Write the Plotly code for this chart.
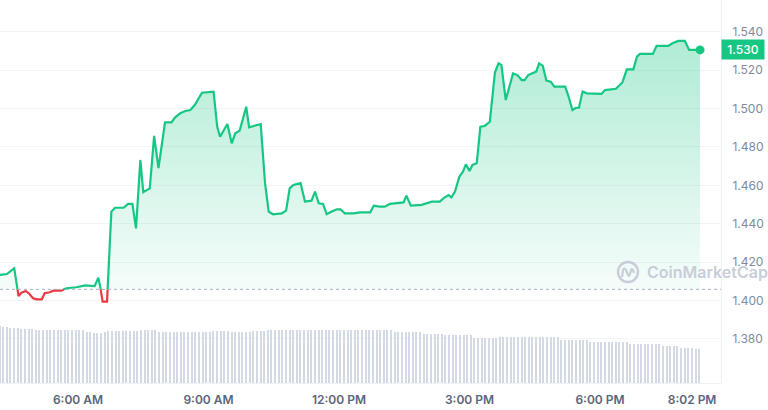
import pandas as pd
import plotly.graph_objects as go

DAY = "2024-05-01"
OPEN_PRICE = 1.4058

price_times = ["04:12","04:22","04:32","04:38","04:42","04:48","04:53","04:58","05:03","05:10",
    "05:14","05:21","05:26","05:37","05:44","05:58","06:10","06:23","06:28","06:31",
    "06:34","06:40","06:46","06:51","07:03","07:09","07:15","07:20","07:26","07:30",
    "07:39","07:45","07:51","08:00","08:09","08:14","08:21","08:28","08:35","08:41",
    "08:51","09:07","09:12","09:16","09:26","09:32","09:37","09:43","09:52","09:56",
    "10:12","10:18","10:23","10:29","10:41","10:47","10:52","10:57","11:07","11:13",
    "11:22","11:27","11:32","11:38","11:43","11:50","11:57","12:02","12:08","12:20",
    "12:29","12:43","12:48","12:56","13:03","13:10","13:20","13:29","13:33","13:39",
    "13:54","14:01","14:08","14:19","14:25","14:31","14:35","14:40","14:46","14:51",
    "14:55","15:00","15:04","15:10","15:15","15:21","15:28","15:35","15:40","15:44",
    "15:50","16:00","16:06","16:12","16:16","16:21","16:28","16:32","16:36","16:41",
    "16:46","16:52","16:57","17:12","17:16","17:22","17:27","17:31","17:36","17:42",
    "18:02","18:07","18:22","18:27","18:31","18:37","18:46","18:51","18:55","19:13",
    "19:18","19:34","19:40","19:48","19:57","20:03","20:18"]

prices = [1.4133,1.4138,1.4168,1.4023,1.4041,1.4050,1.4034,1.4012,1.4006,1.4006,
    1.4038,1.4043,1.4051,1.4051,1.4064,1.4069,1.4079,1.4075,1.4119,1.4064,
    1.3994,1.3994,1.4463,1.4483,1.4483,1.4503,1.4503,1.4376,1.4732,1.4564,
    1.4584,1.4857,1.4689,1.4928,1.4928,1.4954,1.4975,1.4987,1.4992,1.5018,
    1.5082,1.5088,1.4905,1.4853,1.4919,1.4819,1.4871,1.4885,1.5009,1.4902,
    1.4919,1.4610,1.4463,1.4449,1.4454,1.4468,1.4584,1.4602,1.4611,1.4515,
    1.4520,1.4567,1.4506,1.4503,1.4449,1.4463,1.4475,1.4475,1.4454,1.4454,
    1.4459,1.4459,1.4494,1.4489,1.4489,1.4503,1.4506,1.4511,1.4546,1.4494,
    1.4498,1.4506,1.4515,1.4515,1.4535,1.4549,1.4537,1.4567,1.4645,1.4671,
    1.4709,1.4674,1.4706,1.4715,1.4905,1.4909,1.4931,1.5186,1.5235,1.5227,
    1.5044,1.5183,1.5174,1.5148,1.5148,1.5174,1.5186,1.5192,1.5235,1.5223,
    1.5145,1.5140,1.5114,1.5114,1.5070,1.4992,1.5004,1.5004,1.5088,1.5079,
    1.5076,1.5096,1.5103,1.5122,1.5137,1.5204,1.5204,1.5270,1.5284,1.5284,
    1.5326,1.5326,1.5340,1.5352,1.5352,1.5305,1.5305]

# 5-minute volume bars (arbitrary units), starting 04:12
VOLUME_START = "04:12"
volumes = [56.7,56.2,55.7,55.2,55.2,54.7,54.2,53.7,53.7,53.7,53.4,53.4,53.4,53.4,53.4,53.4,52.7,52.7,52.7,52.7,
    52.7,52.7,52.7,52.7,51.2,51.2,50.2,50.2,50.2,51.2,51.7,51.7,51.7,51.7,51.7,51.7,51.7,51.7,51.7,52.7,
    52.7,52.7,52.7,52.7,51.2,51.2,51.2,51.2,51.2,51.2,51.2,51.2,51.2,51.2,51.2,51.2,51.2,51.2,51.2,51.7,
    51.7,51.7,51.7,51.7,51.2,51.2,51.2,51.2,51.2,51.2,51.7,51.7,51.7,51.7,53.2,53.2,53.2,53.2,53.2,53.2,
    53.2,53.2,53.2,53.2,53.2,53.2,53.2,53.2,53.2,53.2,53.2,53.2,53.2,53.2,53.2,53.2,53.2,53.2,52.7,52.7,
    52.7,52.7,52.7,52.7,52.7,52.7,52.7,52.7,52.7,50.7,50.7,50.7,50.7,50.7,50.7,50.7,50.7,49.2,49.2,49.2,
    49.2,49.2,49.2,47.7,47.7,47.7,47.7,47.7,47.7,47.7,47.7,44.7,44.7,44.7,44.7,44.7,44.7,44.7,45.7,45.7,
    45.7,45.7,45.7,45.7,45.7,45.7,45.7,45.7,45.7,45.7,45.7,45.7,45.7,45.7,45.7,42.7,42.7,42.7,42.7,42.7,
    42.7,42.7,42.7,40.7,40.7,40.7,40.7,40.7,40.7,40.7,40.7,40.7,40.7,40.7,38.7,38.7,38.7,38.7,38.7,38.7,
    38.7,38.7,38.7,36.7,36.7,36.7,36.7,36.7,35.2,35.2,35.2,35.2,33.7,33.7]

y_tick_vals = [1.380, 1.400, 1.420, 1.440, 1.460, 1.480, 1.500, 1.520, 1.540]
x_tick_times = ["06:00", "09:00", "12:00", "15:00", "18:00", "20:07"]
x_tick_text = ["6:00 AM", "9:00 AM", "12:00 PM", "3:00 PM", "6:00 PM", "8:02 PM"]

assert len(price_times) == len(prices)

GREEN = "#16c784"
RED = "#ea3943"

ts = pd.to_datetime([f"{DAY} {t}" for t in price_times])
xs, ys = [], []
for i in range(len(ts)):
    if i > 0:
        a, b = prices[i - 1], prices[i]
        if (a - OPEN_PRICE) * (b - OPEN_PRICE) < 0:
            f = (OPEN_PRICE - a) / (b - a)
            xs.append(ts[i - 1] + (ts[i] - ts[i - 1]) * f)
            ys.append(OPEN_PRICE)
    xs.append(ts[i])
    ys.append(prices[i])

green_y = [y if y >= OPEN_PRICE else None for y in ys]
red_y = [y if y <= OPEN_PRICE else None for y in ys]
fill_y = [max(y, OPEN_PRICE) for y in ys]

vol_x = pd.date_range(start=f"{DAY} {VOLUME_START}", periods=len(volumes), freq="5min")

fig = go.Figure()
fig.add_trace(go.Bar(x=vol_x, y=volumes, yaxis="y2", marker=dict(color="#d3d9e5", line=dict(width=0)),
                     width=115000, hoverinfo="skip"))
fig.add_trace(go.Scatter(x=xs, y=[OPEN_PRICE] * len(xs), mode="lines", line=dict(width=0),
                         hoverinfo="skip"))
fig.add_trace(go.Scatter(x=xs, y=fill_y, mode="lines", line=dict(width=0), fill="tonexty",
                         fillgradient=dict(type="vertical", start=OPEN_PRICE, stop=max(prices),
                                           colorscale=[[0, "rgba(22,199,132,0.04)"],
                                                       [1, "rgba(22,199,132,0.34)"]]),
                         hoverinfo="skip"))
fig.add_trace(go.Scatter(x=xs, y=green_y, mode="lines", line=dict(color=GREEN, width=2.2),
                         connectgaps=False))
fig.add_trace(go.Scatter(x=xs, y=red_y, mode="lines", line=dict(color=RED, width=2.2),
                         connectgaps=False))
fig.add_trace(go.Scatter(x=[ts[-1]], y=[prices[-1]], mode="markers",
                         marker=dict(color=GREEN, size=9)))

fig.add_hline(y=OPEN_PRICE, line=dict(color="#a9b1c2", width=1, dash="dot"))

wm = "#c8cdd8"
fig.add_shape(type="circle", xref="paper", yref="paper", xsizemode="pixel", ysizemode="pixel",
              xanchor=628 / 721, yanchor=(383 - 272) / 383, x0=-10, x1=10, y0=-10, y1=10,
              line=dict(color=wm, width=2.4))
fig.add_shape(type="path", xref="paper", yref="paper", xsizemode="pixel", ysizemode="pixel",
              xanchor=628 / 721, yanchor=(383 - 272) / 383,
              path="M -6 -5 L -5 2 Q -4 5 -2 2 L 0 -3 Q 1 -5 2 -2 L 3 2 Q 4 4 5 2 L 6 -1",
              line=dict(color=wm, width=2.2))
fig.add_annotation(xref="paper", yref="paper", x=645 / 721, y=(383 - 272) / 383, xanchor="left",
                   yanchor="middle", text="CoinMarketCap", showarrow=False,
                   font=dict(family="Inter", size=16, color=wm, weight=600))

fig.add_annotation(xref="paper", yref="y", x=1, y=prices[-1], xanchor="left", yanchor="middle",
                   text=f"{prices[-1]:.3f}", showarrow=False, bgcolor=GREEN, width=40, height=17,
                   borderpad=1, font=dict(family="Inter", size=12, color="white", weight=500))

fig.update_layout(
    width=768, height=410, margin=dict(l=0, r=47, t=0, b=27),
    paper_bgcolor="white", plot_bgcolor="white", showlegend=False, bargap=0,
    font=dict(family="Inter", color="#808a9d", size=12),
    xaxis=dict(type="date", range=[f"{DAY} 04:12:24", f"{DAY} 20:46:54"],
               tickvals=[f"{DAY} {t}" for t in x_tick_times], ticktext=x_tick_text,
               showgrid=False, showline=True, linecolor="#eff2f5", zeroline=False,
               tickfont=dict(family="Inter", size=12, color="#58667e", weight=600),
               ticks="", ticklabelstandoff=6),
    yaxis=dict(side="right", range=[1.35703, 1.55651], tickvals=y_tick_vals, tickformat=".3f",
               showgrid=True, gridcolor="#f2f4f7", gridwidth=1, zeroline=False,
               showline=True, linecolor="#eff2f5", ticks="", ticklabelstandoff=8,
               tickfont=dict(family="Inter", size=12, color="#808a9d")),
    yaxis2=dict(overlaying="y", range=[0, 383], visible=False, fixedrange=True),
)

fig.write_html("out.html", config={"displayModeBar": False},
               post_script="document.body.style.margin='0';document.body.style.overflow='hidden';")
